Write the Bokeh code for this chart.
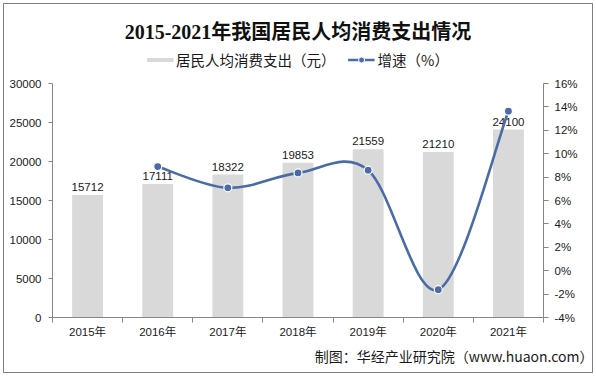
from bokeh.plotting import figure
from bokeh.layouts import column
from bokeh.models import (Range1d, LinearAxis, SingleIntervalTicker, FixedTicker, PrintfTickFormatter,
                          Legend, LegendItem, Title, Label, ColumnDataSource)
from bokeh.core.properties import value
from bokeh.embed import file_html
from bokeh.resources import INLINE

# ---- data ----
years = ["2015年", "2016年", "2017年", "2018年", "2019年", "2020年", "2021年"]
spending = [15712, 17111, 18322, 19853, 21559, 21210, 24100]
growth_years = ["2016年", "2017年", "2018年", "2019年", "2020年", "2021年"]
growth = [8.90, 7.08, 8.36, 8.59, -1.62, 13.63]

title_text = "2015-2021年我国居民人均消费支出情况"
bar_label = "居民人均消费支出（元）"
line_label = "增速（%）"
source_text = "制图：华经产业研究院（www.huaon.com）"

# ---- layout constants (canvas px) ----
W, H = 596, 376
HH = 76                      # header strip height (title + legend)
FL, FR, FT, FB = 52, 543, 83, 317

BAR_C = "#d9d9d9"
LINE_C = "#4a6ba6"
TXT_C = "#1a1a1a"
AX_C = "#868686"
LAT = "Liberation Sans, Noto Sans CJK SC"
CJK = "Noto Sans CJK SC"

xc = [i + 0.5 for i in range(len(years))]
gx = [years.index(y) + 0.5 for y in growth_years]

# ================= header: title + legend =================
hdr = figure(width=W, height=HH, x_range=Range1d(0, W), y_range=Range1d(HH, 0),
             output_backend="svg", toolbar_location=None, title=None,
             x_axis_location=None, y_axis_location=None, min_border=0)
hdr.xgrid.visible = False
hdr.ygrid.visible = False
hdr.outline_line_color = None
hdr.border_fill_color = "white"

hdr.add_layout(Label(x=W / 2, y=31, text=title_text, text_align="center", text_baseline="middle",
                     text_font="Liberation Serif, Noto Sans CJK SC", text_font_style="bold",
                     text_font_size="20px", text_color="#111111"))

# hidden proxies used only for the legend swatches
bar_proxy = hdr.line(xc, spending, line_color=BAR_C, line_width=4, visible=False)
line_proxy = hdr.line(gx, growth, line_color=LINE_C, line_width=2.6, visible=False)
dot_proxy = hdr.scatter(gx, growth, fill_color=LINE_C, line_color="white", line_width=1,
                        visible=False)

legend = Legend(items=[LegendItem(label=bar_label, renderers=[bar_proxy]),
                       LegendItem(label=line_label, renderers=[line_proxy, dot_proxy])],
                orientation="horizontal", location="bottom_center",
                padding=0, margin=6, spacing=12, label_standoff=3,
                glyph_width=27, glyph_height=15, label_height=15,
                label_text_font=CJK, label_text_font_size="14.5px", label_text_color=TXT_C,
                background_fill_alpha=0, border_line_color=None,
                inactive_fill_alpha=0)
hdr.add_layout(legend, "center")

# ================= main chart =================
p = figure(width=W, height=H - HH, x_range=Range1d(0, len(years)), y_range=Range1d(0, 30000),
           output_backend="svg", toolbar_location=None, title=None,
           min_border_left=FL, min_border_right=W - FR, min_border_top=FT - HH,
           min_border_bottom=H - FB)
p.extra_y_ranges = {"pct": Range1d(-4, 16)}
p.xgrid.visible = False
p.ygrid.visible = False
p.outline_line_color = None
p.background_fill_color = "white"
p.border_fill_color = "white"

# left axis
la = p.yaxis[0]
la.ticker = SingleIntervalTicker(interval=5000, num_minor_ticks=0)
la.axis_line_color = AX_C
la.major_tick_line_color = AX_C
la.major_tick_in = 0
la.major_tick_out = 4
la.minor_tick_line_color = None
la.major_label_standoff = 7
la.major_label_text_font = LAT
la.major_label_text_font_size = "11.5px"
la.major_label_text_color = TXT_C

# right axis
ra = LinearAxis(y_range_name="pct",
                ticker=SingleIntervalTicker(interval=2, num_minor_ticks=0),
                formatter=PrintfTickFormatter(format="%d%%"))
ra.axis_line_color = AX_C
ra.major_tick_line_color = AX_C
ra.major_tick_in = 0
ra.major_tick_out = 5
ra.minor_tick_line_color = None
ra.major_label_standoff = 6
ra.major_label_text_font = LAT
ra.major_label_text_font_size = "11.5px"
ra.major_label_text_color = TXT_C
p.add_layout(ra, "right")

# bottom axis
ba = p.xaxis[0]
ba.ticker = FixedTicker(ticks=xc, minor_ticks=list(range(len(years) + 1)))
ba.major_label_overrides = {x: y for x, y in zip(xc, years)}
ba.axis_line_color = AX_C
ba.major_tick_line_color = None
ba.minor_tick_line_color = AX_C
ba.minor_tick_in = 0
ba.minor_tick_out = 5
ba.major_label_standoff = 2
ba.major_label_text_font = LAT
ba.major_label_text_font_size = "11.5px"
ba.major_label_text_color = TXT_C

# bars
bsrc = ColumnDataSource(dict(x=xc, y=spending, t=[str(v) for v in spending]))
bars = p.vbar(x="x", top="y", width=0.44, source=bsrc, fill_color=BAR_C, line_color=None)
p.text(x="x", y="y", text="t", source=bsrc, text_align="center", text_baseline="bottom",
       y_offset=-4, text_font=value("Liberation Sans"), text_font_size="11.5px", text_color=TXT_C)

# smoothed growth line (cubic bezier through the points)
n = len(gx)
seg = dict(x0=[], y0=[], x1=[], y1=[], cx0=[], cy0=[], cx1=[], cy1=[])
for i in range(n - 1):
    a = max(i - 1, 0)
    d = min(i + 2, n - 1)
    seg["x0"].append(gx[i]); seg["y0"].append(growth[i])
    seg["x1"].append(gx[i + 1]); seg["y1"].append(growth[i + 1])
    seg["cx0"].append(gx[i] + (gx[i + 1] - gx[a]) / 6)
    seg["cy0"].append(growth[i] + (growth[i + 1] - growth[a]) / 6)
    seg["cx1"].append(gx[i + 1] - (gx[d] - gx[i]) / 6)
    seg["cy1"].append(growth[i + 1] - (growth[d] - growth[i]) / 6)
p.bezier(source=ColumnDataSource(seg), x0="x0", y0="y0", x1="x1", y1="y1",
         cx0="cx0", cy0="cy0", cx1="cx1", cy1="cy1",
         y_range_name="pct", line_color=LINE_C, line_width=2.6)
dots = p.scatter(gx, growth, y_range_name="pct", size=8, fill_color=LINE_C,
                 line_color="white", line_width=1.2)

# footer below the x axis
p.add_layout(Title(text=source_text, align="right", text_font=CJK, text_font_style="normal",
                   text_font_size="14px", text_color=TXT_C, offset=-50, standoff=6), "below")

frame_css = (":host::after { content: ''; position: absolute; left: 3px; top: 3px; "
             "right: 3px; bottom: 3px; border: 1px solid #7f7f7f; pointer-events: none; "
             "z-index: 1000; }")
layout = column(hdr, p, spacing=0, stylesheets=[frame_css])

open("out.html", "w").write(file_html(layout, INLINE))
